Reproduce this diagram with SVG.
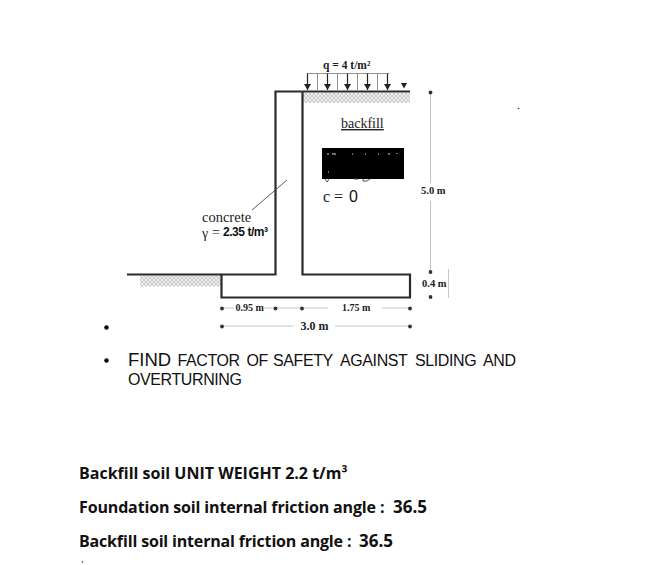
<svg xmlns="http://www.w3.org/2000/svg" width="652" height="565" viewBox="0 0 652 565">
<style>
.ser{font-family:"Liberation Serif",serif;fill:#222}
.b{font-weight:bold}
.ar{font-family:"Liberation Sans",Arial,sans-serif;fill:#111}
.q{letter-spacing:-.4px}
.cal{font-family:"Open Sans","Liberation Sans",sans-serif;font-weight:bold;font-size:16px;fill:#111}
.wall{fill:none;stroke:#2a2a2a;stroke-width:2.2}
.dim{stroke:#c4c4c4;stroke-width:1;fill:none}
.load{stroke:#777;stroke-width:.8;fill:none}
.arr{stroke:#222;stroke-width:1.2;fill:none}
</style>
<defs>
<pattern id="hatch" width="4" height="4" patternUnits="userSpaceOnUse">
<rect width="4" height="4" fill="#f0f0f0"/>
<path d="M0 4L4 0M0 0L4 4" stroke="#bcbcbc" stroke-width=".7"/>
</pattern>
<marker id="tip" markerWidth="7" markerHeight="7" refX="3.500" refY="6" orient="0" markerUnits="userSpaceOnUse">
<path d="M0 0H7L3.500 6Z" fill="#222"/>
</marker>
<circle id="dot" r="1.900" fill="#333"/>
</defs>
<rect width="652" height="565" fill="#fff"/>
<g id="ground">
<rect x="303" y="93" width="107" height="10" fill="url(#hatch)"/>
<rect x="140" y="275.500" width="81" height="11" fill="url(#hatch)"/>
<path class="wall" d="M127 274.500H221"/>
<path class="wall" d="M302.500 91.500H410"/>
</g>
<g id="wall">
<path class="wall" d="M302.500 91.500H275.500V274.500H221.500V297.500H410V274.500H302.500V91.500"/>
</g>
<g id="connectors">
<path class="load" d="M307 73.500H389M317.500 73.500V90M337.500 73.500V90M357.500 73.500V90M377.500 73.500V90"/>
<g class="arr">
<path d="M307.500 73.500V90" marker-end="url(#tip)"/>
<path d="M327.500 73.500V90" marker-end="url(#tip)"/>
<path d="M347.500 73.500V90" marker-end="url(#tip)"/>
<path d="M367.500 73.500V90" marker-end="url(#tip)"/>
<path d="M387.500 73.500V90" marker-end="url(#tip)"/>
</g>
<path d="M401 83H407L404 88.500Z" fill="#222"/>
<path d="M287 180L252 210" stroke="#333" stroke-width=".8" fill="none"/>
<path class="dim" d="M430.500 92V183M430.500 201V270M448.500 269V298"/>
<path class="dim" d="M222 308H234M264 308H275M277 308H302M304 308H328M382 308H410M222 326H293M335 326H410"/>
<g>
<use href="#dot" x="430.500" y="92.500"/><use href="#dot" x="430.500" y="272"/><use href="#dot" x="430.500" y="297"/>
<use href="#dot" x="222" y="308.500"/><use href="#dot" x="275.500" y="308.500"/><use href="#dot" x="302" y="308.500"/><use href="#dot" x="410" y="308.500"/>
<use href="#dot" x="222" y="326.500"/><use href="#dot" x="410" y="326.500"/>
</g>
</g>
<g id="load-label"><text class="ser b" x="323" y="68.500" font-size="11.500">q = 4 t/m²</text></g>
<g id="backfill-label">
<text class="ser" x="341" y="128" font-size="14" text-decoration="underline">backfill</text>
<rect x="322" y="148" width="82" height="31" fill="#000"/>
<path d="M327 154h2M332 154h4M352 154h1M365 154h1M378 154h1M388 154h2M397 153v1M328 172h1" stroke="#ddd" stroke-width="1"/>
<path d="M325 179l2 3 2-3M354 179h3v1M363 179v2h4l3-2" stroke="#555" stroke-width="1" fill="none"/>
<text class="ser" x="323" y="202" font-size="16" fill="#333">c =</text>
<text class="ar" x="349" y="202" font-size="16" fill="#333">0</text>
</g>
<g id="concrete-label">
<text class="ser" x="202" y="222" font-size="14.500">concrete</text>
<text class="ser" x="202" y="238" font-size="14" fill="#667">γ</text>
<text class="ser" x="212" y="237" font-size="14" fill="#667">=</text>
<text class="ar" x="223" y="236" font-size="12" font-weight="bold" fill="#333" textLength="45">2.35 t/m³</text>
</g>
<g id="dim-labels">
<text class="ser b" x="421" y="194" font-size="10.500">5.0 m</text>
<text class="ser b" x="422" y="287" font-size="10.500">0.4 m</text>
<text class="ser b" x="235.500" y="311" font-size="10">0.95 m</text>
<text class="ser b" x="342" y="311" font-size="10">1.75 m</text>
<text class="ser b" x="300.500" y="330" font-size="12">3.0 m</text>
</g>
<g id="question">
<circle cx="106.500" cy="327.500" r="2.200" fill="#000"/>
<circle cx="106.500" cy="360.500" r="2.200" fill="#000"/>
<text class="ar q" y="366" font-size="16"><tspan x="128" font-size="18.500" letter-spacing="0">FIND</tspan><tspan x="177.500">FACTOR</tspan><tspan x="246.500">OF</tspan><tspan x="273">SAFETY</tspan><tspan x="340">AGAINST</tspan><tspan x="415">SLIDING</tspan><tspan x="483">AND</tspan></text>
<text class="ar q" x="128" y="385" font-size="16">OVERTURNING</text>
</g>
<g id="givens">
<text class="cal" x="79" y="479">Backfill soil UNIT WEIGHT 2.2 t/m³</text>
<text class="cal" y="513"><tspan x="79" textLength="297">Foundation soil internal friction angle</tspan><tspan x="380">:</tspan><tspan x="393" font-size="17">36.5</tspan></text>
<text class="cal" y="547"><tspan x="79" textLength="264">Backfill soil internal friction angle</tspan><tspan x="347">:</tspan><tspan x="359" font-size="17">36.5</tspan></text>
</g>
<g id="specks"><circle cx="518.500" cy="108.500" r=".8" fill="#333"/><circle cx="82.500" cy="562" r=".8" fill="#333"/></g>
</svg>
